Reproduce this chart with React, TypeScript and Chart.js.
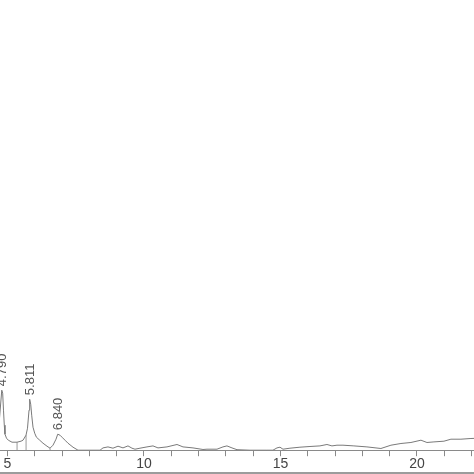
import React, { useEffect, useRef } from "react";
import { Chart, registerables } from "chart.js";

Chart.register(...registerables);

// Retention time (min) and detector signal (arbitrary units)
const times = [
  4.70, 4.79, 4.823, 4.853, 4.882, 4.908, 4.963, 5.029, 5.165, 5.348, 5.495, 5.568, 5.678, 5.733, 5.788,
  5.811, 5.85, 5.886, 5.934, 5.996, 6.059, 6.18, 6.30, 6.447, 6.557, 6.667, 6.777, 6.84, 6.923, 6.996,
  7.106, 7.216, 7.40, 7.582, 8.39, 8.498, 8.681, 8.864, 9.048, 9.231, 9.414, 9.56, 9.67, 9.853, 10.11,
  10.33, 10.513, 10.842, 11.209, 11.429, 11.795, 12.161, 12.308, 12.674, 12.894, 13.04, 13.223, 13.407,
  13.883, 14.5, 14.725, 14.872, 14.982, 15.092, 15.348, 15.714, 16.081, 16.447, 16.703, 16.886, 17.07,
  17.29, 17.69, 18.168, 18.68, 19.048, 19.414, 19.78, 20.147, 20.366, 20.623, 20.989, 21.245, 21.612,
  21.978, 22.3,
];
const signal = [
  30, 60, 57, 40, 25, 16, 12, 10, 8, 8, 9, 10, 15, 22, 40,
  51, 46, 35, 23, 17, 13, 10, 7, 4, 2, 5, 11, 16, 15, 13,
  10, 7, 3, 0, 0, 2.3, 3.3, 2, 4, 2.3, 4.3, 2, 1, 2, 3.3,
  4.3, 2.3, 3.3, 5.7, 3.3, 2.3, 0.7, 1, 1, 3.3, 4.3, 2.3, 0.5,
  0, 0, 0, 2.3, 3, 1, 2, 3, 3.7, 4.3, 5.7, 4.3, 5,
  5, 4.3, 3.3, 1.7, 5, 6.7, 7.7, 10, 7.7, 8.3, 9, 11, 11,
  11.7, 12,
];

// Peak annotations
const peakTimes = [4.79, 5.811, 6.84];
const peakHeights = [60, 51, 16];
const peakLabels = ["4.790", "5.811", "6.840"];

// Integration drop lines
const dropTimes = [5.35, 5.68, 6.56];
const dropHeights = [8, 15, 2];

// Axis
const xMin = 4.725;
const xMax = 22.09;
const labelEvery = 5;

const peakLabelPlugin = {
  id: "peakLabels",
  afterDatasetsDraw(chart: any) {
    const { ctx, scales } = chart;
    ctx.save();
    ctx.font = "13px 'Liberation Sans', Arial, sans-serif";
    ctx.fillStyle = "#555";
    ctx.textAlign = "left";
    ctx.textBaseline = "middle";
    peakTimes.forEach((t, i) => {
      const x = scales.x.getPixelForValue(t);
      const y = scales.y.getPixelForValue(peakHeights[i]);
      ctx.save();
      ctx.translate(x + 1, y - 4);
      ctx.rotate(-Math.PI / 2);
      ctx.fillText(peakLabels[i], 0, 0);
      ctx.restore();
    });
    ctx.restore();
  },
};

export default function App() {
  const ref = useRef<HTMLCanvasElement | null>(null);

  useEffect(() => {
    document.body.style.margin = "0";
    const dropData: any[] = [];
    dropTimes.forEach((t, i) => {
      dropData.push({ x: t, y: 0 });
      dropData.push({ x: t, y: dropHeights[i] });
      dropData.push({ x: t, y: null });
    });
    const chart = new Chart(ref.current as HTMLCanvasElement, {
      type: "line",
      data: {
        datasets: [
          {
            data: times.map((t, i) => ({ x: t, y: signal[i] })),
            borderColor: "#7a7a7a",
            borderWidth: 1,
            pointRadius: 0,
            tension: 0,
            fill: false,
          },
          {
            data: dropData,
            borderColor: "#9a9a9a",
            borderWidth: 1,
            pointRadius: 0,
            spanGaps: false,
            fill: false,
          },
        ],
      },
      options: {
        animation: false,
        responsive: false,
        devicePixelRatio: 1,
        layout: { padding: { top: 0, left: 0, right: 0, bottom: 1 } },
        plugins: { legend: { display: false }, tooltip: { enabled: false } },
        scales: {
          x: {
            type: "linear",
            min: xMin,
            max: xMax,
            border: { display: true, color: "#8a8a8a", width: 1 },
            grid: {
              display: true,
              drawOnChartArea: false,
              drawTicks: true,
              tickLength: 6,
              color: "#8a8a8a",
            },
            ticks: {
              stepSize: 1,
              includeBounds: false,
              autoSkip: false,
              maxRotation: 0,
              padding: 0,
              color: "#444",
              font: { size: 14, family: "'Liberation Sans', Arial, sans-serif" },
              callback: (v: any) => (Number(v) % labelEvery === 0 ? String(v) : ""),
            },
          },
          y: {
            display: false,
            min: 0,
            max: 450,
          },
        },
      },
      plugins: [peakLabelPlugin],
    } as any);
    return () => chart.destroy();
  }, []);

  return (
    <div style={{ position: "absolute", left: 0, top: 0, width: 474, height: 474, background: "#fff" }}>
      <canvas ref={ref} width={474} height={474} />
      <div style={{ position: "absolute", left: 0, bottom: 0, width: 474, height: 2, background: "#9c9c9c" }} />
    </div>
  );
}
